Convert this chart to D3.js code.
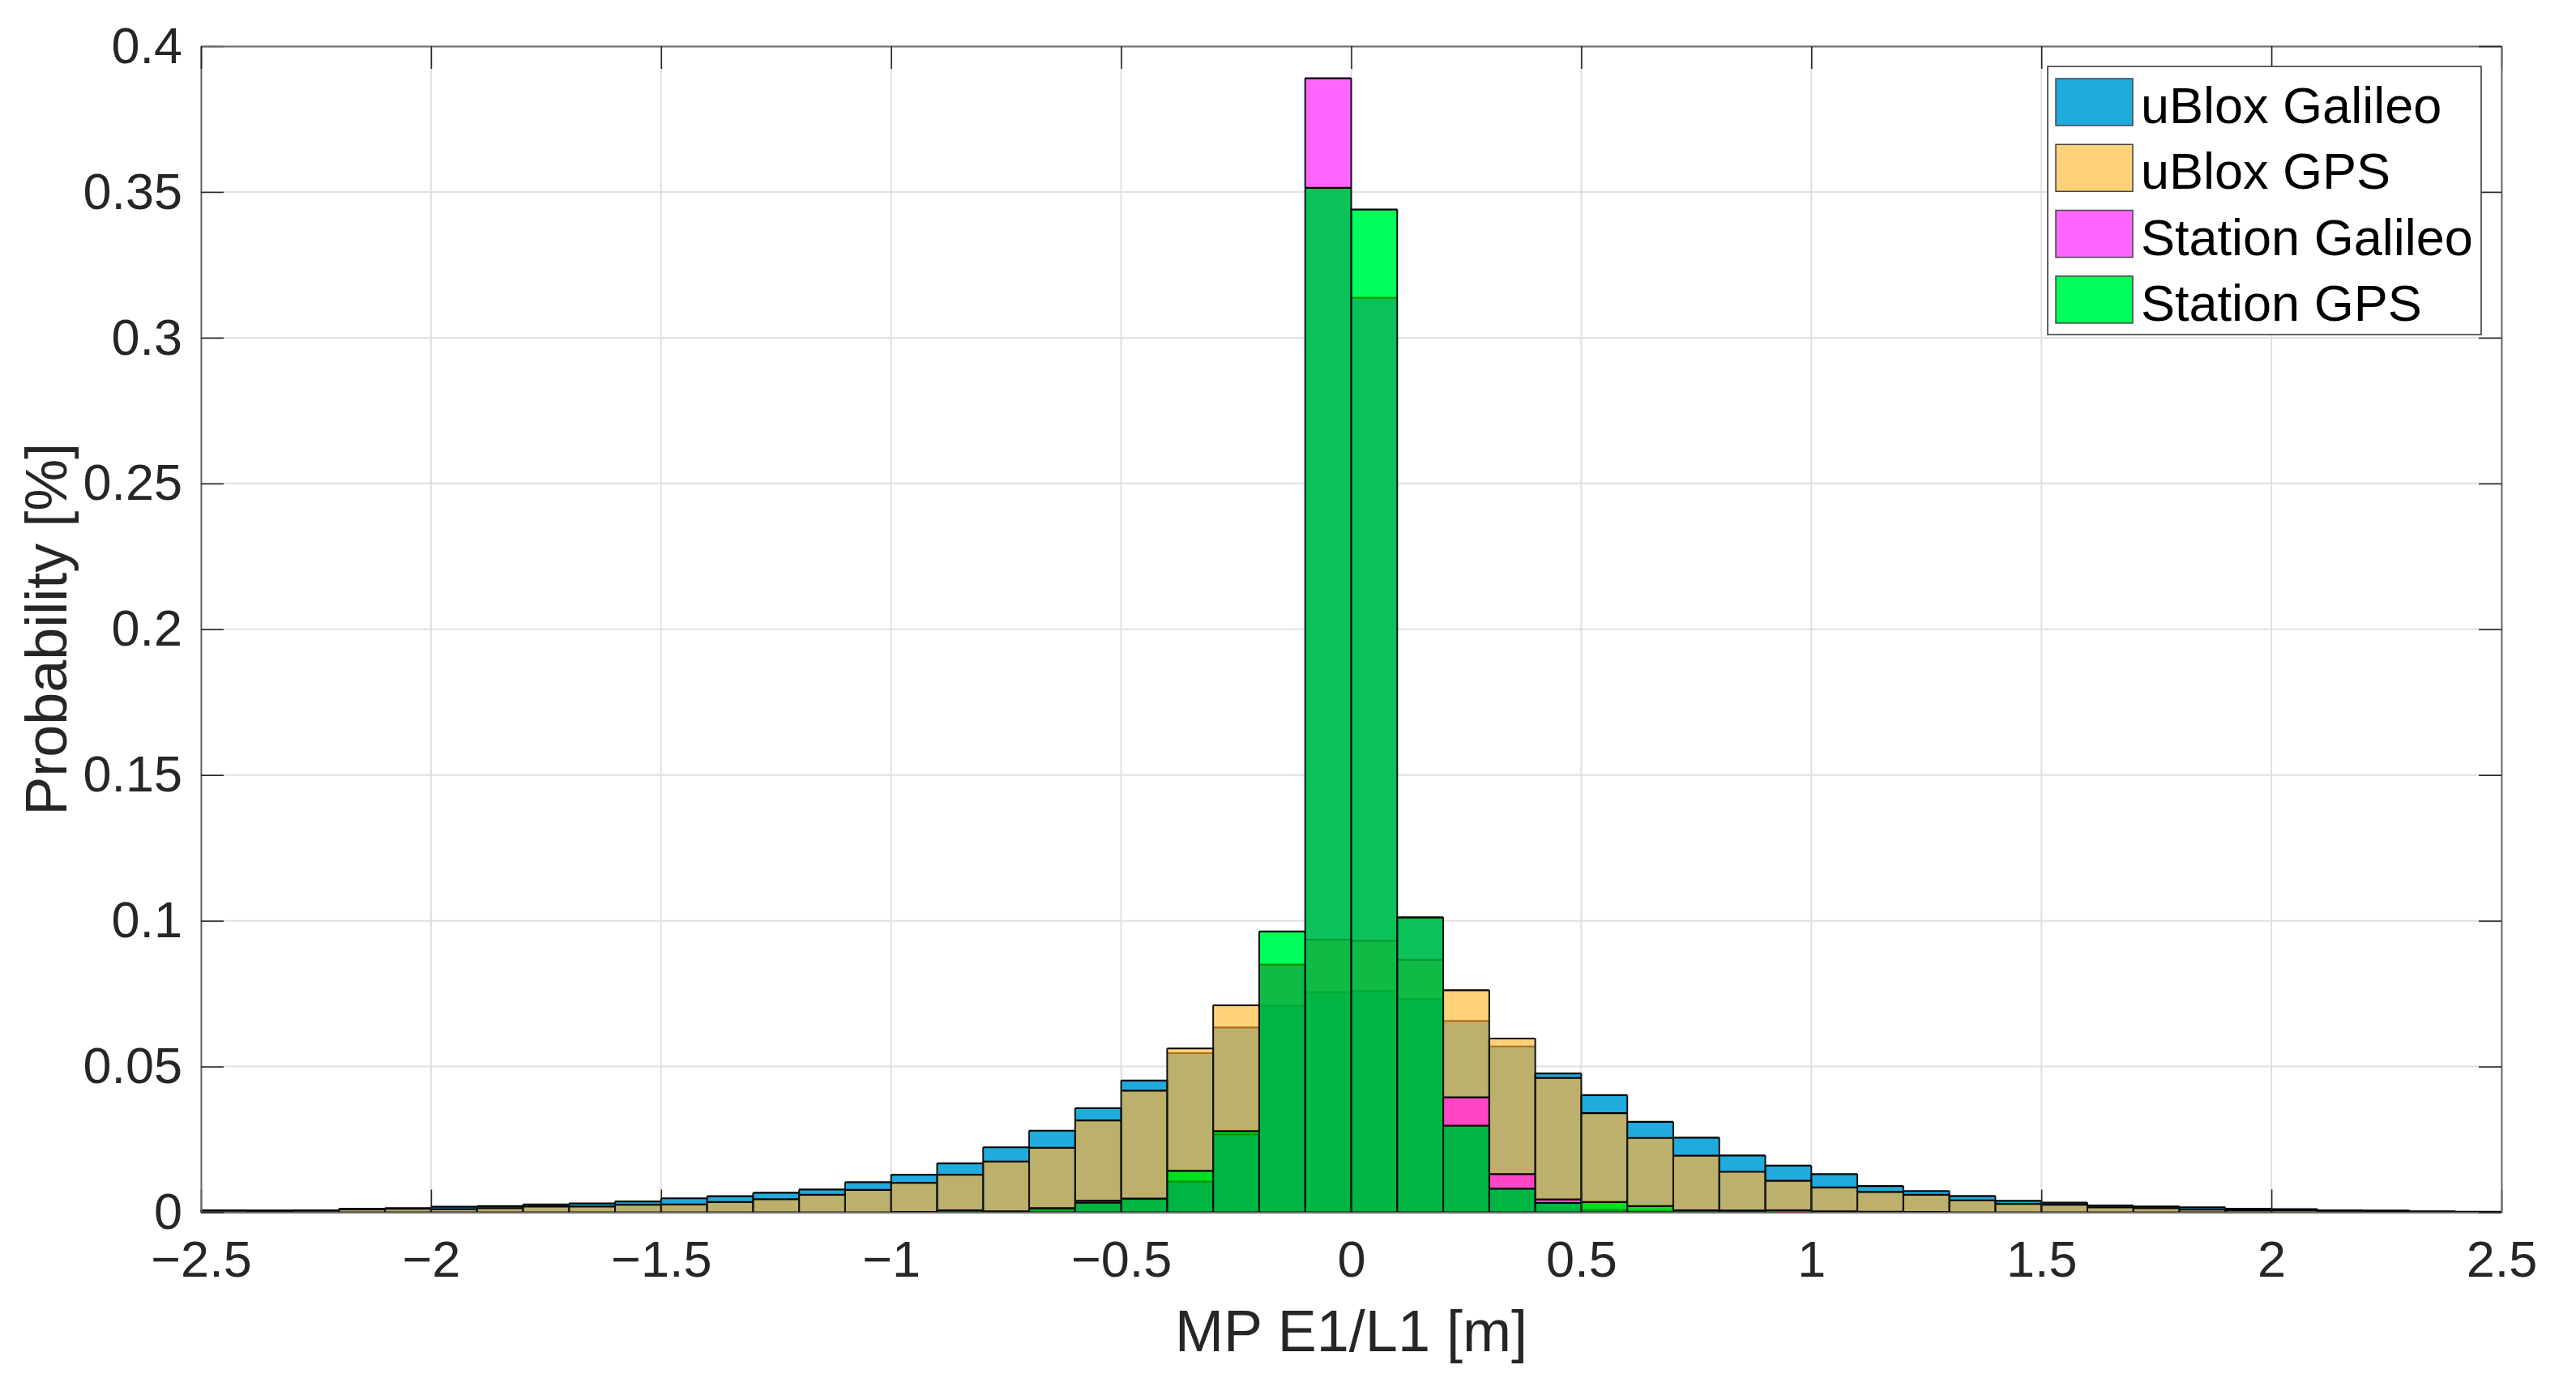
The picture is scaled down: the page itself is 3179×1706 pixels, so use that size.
<!DOCTYPE html>
<html>
<head>
<meta charset="utf-8">
<script src="https://cdnjs.cloudflare.com/ajax/libs/d3/7.8.5/d3.min.js"></script>
<style>
  html, body { margin: 0; padding: 0; background: #fff; }
  text { font-family: "Liberation Sans", Arial, sans-serif; }
</style>
</head>
<body>
<script>
// histogram bins (left edges, width 0.1 m)
var binEdges = [-2.5, -2.4, -2.3, -2.2, -2.1, -2.0, -1.9, -1.8, -1.7, -1.6,
                -1.5, -1.4, -1.3, -1.2, -1.1, -1.0, -0.9, -0.8, -0.7, -0.6,
                -0.5, -0.4, -0.3, -0.2, -0.1, 0.0, 0.1, 0.2, 0.3, 0.4,
                0.5, 0.6, 0.7, 0.8, 0.9, 1.0, 1.1, 1.2, 1.3, 1.4,
                1.5, 1.6, 1.7, 1.8, 1.9, 2.0, 2.1, 2.2, 2.3, 2.4];
var binWidth = 0.1;

var ubloxGalileo = [0.0007, 0.0006, 0.0007, 0.0012, 0.0014, 0.0019, 0.0021, 0.0027, 0.0030, 0.0037,
                    0.0048, 0.0055, 0.0067, 0.0078, 0.0103, 0.0129, 0.0168, 0.0223, 0.0280, 0.0357,
                    0.0452, 0.0546, 0.0634, 0.0708, 0.0755, 0.0759, 0.0731, 0.0656, 0.0569, 0.0476,
                    0.0402, 0.0310, 0.0256, 0.0195, 0.0160, 0.0131, 0.0090, 0.0073, 0.0056, 0.0039,
                    0.0033, 0.0023, 0.0020, 0.0017, 0.0012, 0.0011, 0.0007, 0.0006, 0.0003, 0.0002];

var ubloxGPS = [0.0006, 0.0005, 0.0006, 0.0010, 0.0012, 0.0011, 0.0014, 0.0020, 0.0020, 0.0026,
                0.0027, 0.0035, 0.0045, 0.0060, 0.0077, 0.0101, 0.0129, 0.0174, 0.0221, 0.0315,
                0.0417, 0.0562, 0.0710, 0.0849, 0.0935, 0.0931, 0.0866, 0.0762, 0.0596, 0.0461,
                0.0340, 0.0255, 0.0194, 0.0139, 0.0108, 0.0085, 0.0070, 0.0060, 0.0041, 0.0029,
                0.0026, 0.0017, 0.0014, 0.0009, 0.0007, 0.0007, 0.0005, 0.0004, 0.0002, 0.0001];

var stationGalileo = [0, 0, 0, 0, 0, 0, 0, 0, 0, 0,
                      0, 0, 0, 0, 0, 0, 0.0002, 0.0002, 0.0010, 0.0040,
                      0.0045, 0.0105, 0.0267, 0.0849, 0.3890, 0.3137, 0.1010, 0.0394, 0.0131, 0.0044,
                      0.0008, 0.0003, 0.0002, 0.0001, 0, 0, 0, 0, 0, 0,
                      0, 0, 0, 0, 0, 0, 0, 0, 0, 0];

var stationGPS = [0, 0, 0, 0, 0, 0, 0, 0, 0, 0,
                  0, 0, 0, 0, 0, 0.0001, 0.0007, 0.0003, 0.0014, 0.0033,
                  0.0047, 0.0142, 0.0278, 0.0963, 0.3514, 0.3440, 0.1012, 0.0297, 0.0081, 0.0032,
                  0.0035, 0.0021, 0.0007, 0.0006, 0.0007, 0.0003, 0.0002, 0.0001, 0, 0,
                  0, 0, 0, 0, 0, 0, 0, 0, 0, 0];

var seriesNames = ['uBlox Galileo', 'uBlox GPS', 'Station Galileo', 'Station GPS'];
var xTicks = [-2.5, -2, -1.5, -1, -0.5, 0, 0.5, 1, 1.5, 2, 2.5];
var yTicks = [0, 0.05, 0.1, 0.15, 0.2, 0.25, 0.3, 0.35, 0.4];

// face colours (drawn in order with face alpha, like overlaid histograms)
var faceAlpha = 0.6;
var faceBase = [[-115, 113, 197], [293, 180, 33], [300, 0, 255], [-170, 255, -20]];

var width = 3179, height = 1706;
var plotLeft = 248, plotRight = 3087, plotTop = 57, plotBottom = 1496.5;

var allSeries = [ubloxGalileo, ubloxGPS, stationGalileo, stationGPS];

function composite(start, layers) {
	var c = start.slice();
	layers.forEach(function (t) {
		c = c.map(function (v, j) { return faceAlpha * faceBase[t][j] + (1 - faceAlpha) * v; });
	});
	return d3.rgb(Math.max(0, Math.min(255, c[0])), Math.max(0, Math.min(255, c[1])), Math.max(0, Math.min(255, c[2]))).formatHex();
}

var svg = d3.select('body').append('svg').attr('width', width).attr('height', height);
svg.append('rect').attr('width', width).attr('height', height).attr('fill', '#fff');

var x = d3.scaleLinear().domain([-2.5, 2.5]).range([plotLeft, plotRight]);
var y = d3.scaleLinear().domain([0, 0.4]).range([plotBottom, plotTop]);

// grid
var grid = svg.append('g');
grid.selectAll('.gx').data(xTicks).enter().append('line')
	.attr('x1', d => x(d)).attr('x2', d => x(d)).attr('y1', plotTop).attr('y2', plotBottom)
	.attr('stroke', '#e0e0e0').attr('stroke-width', 2);
grid.selectAll('.gy').data(yTicks).enter().append('line')
	.attr('y1', d => y(d)).attr('y2', d => y(d)).attr('x1', plotLeft).attr('x2', plotRight)
	.attr('stroke', '#e0e0e0').attr('stroke-width', 2);

// split every bin into pieces by which histograms cover them, blend the colours
var segments = [], topEdges = [], sides = [];
binEdges.forEach(function (b, i) {
	var vals = allSeries.map(s => s[i]);
	var levels = Array.from(new Set([0].concat(vals.filter(v => v > 0)))).sort((a, c) => a - c);
	for (var k = 1; k < levels.length; k++) {
		var lo = levels[k - 1], hi = levels[k];
		var cover = [0, 1, 2, 3].filter(s => vals[s] >= hi);
		segments.push({ x0: b, x1: b + binWidth, lo: lo, hi: hi, color: composite([255, 255, 255], cover) });
	}
	vals.forEach(function (v, s) {
		if (v <= 0) return;
		var later = [0, 1, 2, 3].filter(t => t > s && vals[t] >= v);
		topEdges.push({ x0: b, x1: b + binWidth, v: v, n: later.length, color: composite([0, 0, 0], later) });
	});
	var vmax = d3.max(vals);
	if (vmax > 0) sides.push({ x0: b, x1: b + binWidth, v: vmax });
});

var bars = svg.append('g');
bars.selectAll('rect').data(segments).enter().append('rect')
	.attr('x', d => x(d.x0)).attr('width', d => x(d.x1) - x(d.x0))
	.attr('y', d => y(d.hi)).attr('height', d => y(d.lo) - y(d.hi))
	.attr('fill', d => d.color).attr('stroke', d => d.color).attr('stroke-width', 0.5);

topEdges.sort((a, c) => c.n - a.n);
bars.selectAll('.te').data(topEdges).enter().append('line')
	.attr('x1', d => x(d.x0)).attr('x2', d => x(d.x1))
	.attr('y1', d => y(d.v)).attr('y2', d => y(d.v))
	.attr('stroke', d => d.color).attr('stroke-width', 2.2);
bars.selectAll('.sd').data(sides).enter().append('path')
	.attr('d', d => 'M' + x(d.x0) + ',' + y(0) + 'V' + y(d.v) + 'M' + x(d.x1) + ',' + y(d.v) + 'V' + y(0))
	.attr('fill', 'none').attr('stroke', '#111').attr('stroke-width', 2);
bars.append('line').attr('x1', x(binEdges[0])).attr('x2', x(2.5)).attr('y1', y(0)).attr('y2', y(0))
	.attr('stroke', '#111').attr('stroke-width', 2);

// axes, ticks on all sides pointing inwards
var tickFmt = d => (d < 0 ? '\u2212' : '') + Math.abs(d);
var axB = svg.append('g').attr('transform', 'translate(0,' + plotBottom + ')')
	.call(d3.axisBottom(x).tickValues(xTicks).tickSize(-28).tickSizeOuter(0).tickPadding(35).tickFormat(tickFmt));
var axL = svg.append('g').attr('transform', 'translate(' + plotLeft + ',0)')
	.call(d3.axisLeft(y).tickValues(yTicks).tickSize(-28).tickSizeOuter(0).tickPadding(23).tickFormat(d => String(+d.toFixed(2))));
var axT = svg.append('g').attr('transform', 'translate(0,' + plotTop + ')')
	.call(d3.axisTop(x).tickValues(xTicks).tickSize(-28).tickSizeOuter(0).tickFormat(''));
var axR = svg.append('g').attr('transform', 'translate(' + plotRight + ',0)')
	.call(d3.axisRight(y).tickValues(yTicks).tickSize(-28).tickSizeOuter(0).tickFormat(''));
[axB, axL, axT, axR].forEach(function (a) {
	a.select('.domain').attr('stroke', '#6a6a6a').attr('stroke-width', 2);
	a.selectAll('.tick line').attr('stroke', '#262626').attr('stroke-width', 1.6);
	a.selectAll('.tick text').attr('fill', '#262626').attr('font-size', 63)
		.attr('font-family', '"Liberation Sans", Arial, sans-serif');
});

svg.append('text').attr('x', x(0)).attr('y', 1668).attr('text-anchor', 'middle')
	.attr('font-size', 72).attr('fill', '#262626').text('MP E1/L1 [m]');
svg.append('text').attr('transform', 'translate(82,' + ((plotTop + plotBottom) / 2) + ') rotate(-90)')
	.attr('text-anchor', 'middle').attr('font-size', 72).attr('fill', '#262626').text('Probability [%]');

// legend
var lg = svg.append('g').attr('transform', 'translate(2527,82)');
lg.append('rect').attr('width', 535).attr('height', 331).attr('fill', '#fff')
	.attr('stroke', '#3a3a3a').attr('stroke-width', 1.6);
var rows = lg.selectAll('.row').data(seriesNames).enter().append('g')
	.attr('transform', (d, i) => 'translate(0,' + (15 + i * 81.3) + ')');
rows.append('rect').attr('x', 10).attr('width', 95).attr('height', 58)
	.attr('fill', (d, i) => composite([255, 255, 255], [i])).attr('stroke', '#444').attr('stroke-width', 1.5);
rows.append('text').attr('x', 115).attr('y', 55).attr('font-size', 63).attr('fill', '#000').text(d => d);
</script>
</body>
</html>
